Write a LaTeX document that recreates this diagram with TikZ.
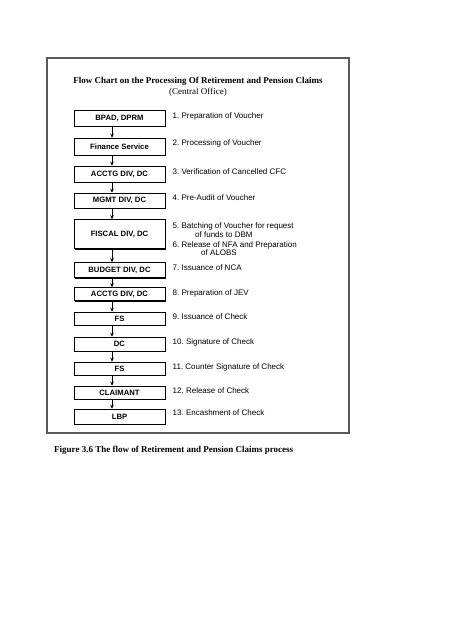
\documentclass[tikz,border=0pt]{standalone}
\usepackage{fontspec}
\setmainfont{Liberation Serif}
\setsansfont{Liberation Sans}
\usetikzlibrary{arrows.meta}
\frenchspacing
\tikzset{
  stepbox/.style={draw=black, line width=0.7pt, fill=white, minimum width=91pt, inner sep=0pt,
    font=\sffamily\bfseries\fontsize{7.7}{9}\selectfont},
  shadowbox/.style={fill=black},
  lbl/.style={anchor=west, inner sep=0pt, align=left, font=\sffamily\fontsize{8}{8.6}\selectfont},
  flow/.style={line width=0.7pt, -{Stealth[length=4pt,width=3.6pt]}},
  frame/.style={draw=black!65, line width=1.2pt}
}
\begin{document}
\begin{tikzpicture}[x=1pt,y=-1pt]
\useasboundingbox (0,0) rectangle (453,640);
\fill[white] (0,0) rectangle (453,640);
\draw[frame] (47,58) rectangle (349,433);
\node[font=\bfseries\fontsize{9}{11}\selectfont, inner sep=0pt] (title) at (198,81) {Flow Chart on the Processing Of Retirement and Pension Claims};
\node[font=\fontsize{9}{11}\selectfont, inner sep=0pt] (sub) at (198,92) {(Central Office)};
% boxes: center y, height
\foreach \n/\cy/\h/\t in {b1/118/16/{BPAD, DPRM}, b2/146.5/17/{Finance Service}, b3/174/16/{ACCTG DIV, DC},
  b4/200.5/15/{MGMT DIV, DC}, b5/234/29/{FISCAL DIV, DC}, b6/270/15/{BUDGET DIV, DC},
  b7/294/13/{ACCTG DIV, DC}, b8/318.5/13/{FS}, b9/344/14/{DC}, b10/368.5/13/{FS},
  b11/392.5/13/{CLAIMANT}, b12/416.5/15/{LBP}}{
  \fill[shadowbox] (75.2,\cy-\h/2+1.2) rectangle (166.2,\cy+\h/2+1.2);
  \node[stepbox, minimum height=\h pt] (\n) at (119.5,\cy) {\t};
}
\foreach \a/\b in {b1/b2,b2/b3,b3/b4,b4/b5,b5/b6,b6/b7,b7/b8,b8/b9,b9/b10,b10/b11,b11/b12}{
  \draw[flow] (\a.south -| 112,0) -- (\b.north -| 112,0);
}
\node[lbl] (l1) at (172.5,116) {1. Preparation of Voucher};
\node[lbl] (l2) at (172.5,143.5) {2. Processing of Voucher};
\node[lbl] (l3) at (172.5,172) {3. Verification of Cancelled CFC};
\node[lbl] (l4) at (172.5,198) {4. Pre-Audit of Voucher};
\node[lbl] (l5) at (172.5,230) {5. Batching of Voucher for request\\\hspace*{22.5pt}of funds to DBM};
\node[lbl] (l6) at (172.5,248.5) {6. Release of NFA and Preparation\\\hspace*{28.5pt}of ALOBS};
\node[lbl] (l7) at (172.5,268) {7. Issuance of NCA};
\node[lbl] (l8) at (172.5,293) {8. Preparation of JEV};
\node[lbl] (l9) at (172.5,317) {9. Issuance of Check};
\node[lbl] (l10) at (172.5,342) {10. Signature of Check};
\node[lbl] (l11) at (172.5,367) {11. Counter Signature of Check};
\node[lbl] (l12) at (172.5,391) {12. Release of Check};
\node[lbl] (l13) at (172.5,413) {13. Encashment of Check};
\node[font=\bfseries\fontsize{9}{11}\selectfont, anchor=west, inner sep=0pt] (cap) at (54,450) {Figure 3.6 The flow of Retirement and Pension Claims process};
\end{tikzpicture}
\end{document}
